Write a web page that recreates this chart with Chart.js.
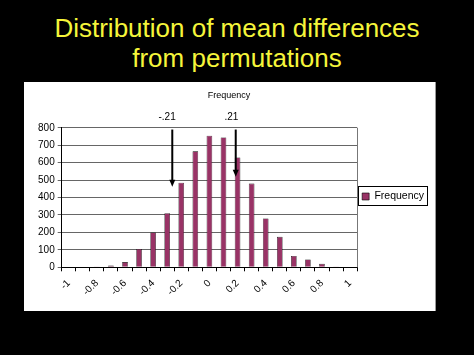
<!DOCTYPE html>
<html>
<head>
<meta charset="utf-8">
<script src="https://cdn.jsdelivr.net/npm/chart.js@4.4.1/dist/chart.umd.min.js"></script>
<style>
  html, body { margin: 0; padding: 0; background: #000; }
  body { width: 474px; height: 355px; position: relative; overflow: hidden; }
  #title {
    position: absolute; left: 0; top: 13px; width: 474px;
    text-align: center; color: #f5f53a;
    font-family: "Liberation Sans", Arial, sans-serif; font-size: 26px; line-height: 30px;
  }
  #box {
    position: absolute; left: 24px; top: 82px; width: 412px; height: 229px;
    background: #fff; border-right: 1px solid #999; box-sizing: border-box;
  }
</style>
</head>
<body>
<div id="title">Distribution of mean differences<br>from permutations</div>
<div id="box"><canvas id="chart" width="411" height="229"></canvas></div>
<script>
// bins of the permutation histogram (-1 .. 1 step 0.1)
const bins = ["-1", "-0.9", "-0.8", "-0.7", "-0.6", "-0.5", "-0.4", "-0.3", "-0.2", "-0.1", "0",
  "0.1", "0.2", "0.3", "0.4", "0.5", "0.6", "0.7", "0.8", "0.9", "1"];
const frequency = [0, 0, 5, 10, 30, 105, 200, 310, 485, 665, 755,
  745, 630, 480, 280, 175, 65, 45, 20, 5, 0];
const yTicks = [0, 100, 200, 300, 400, 500, 600, 700, 800];

// arrows marking the observed difference (+/- .21)
const arrowLabels = ["-.21", ".21"];
const arrowAt = [7.36, 11.87];      // category index
const arrowTip = [462, 520];        // frequency value
const arrowTop = 790;
const labelAt = [6.99, 11.56];
const labelY = 842;

const font = "'Liberation Sans', Arial, sans-serif";

const annotate = {
  id: "annotate",
  afterDraw(chart) {
    const ctx = chart.ctx;
    const x = chart.scales.x, y = chart.scales.y;
    const a = chart.chartArea;
    ctx.save();
    // plot area border
    ctx.strokeStyle = "#777";
    ctx.lineWidth = 1;
    ctx.beginPath();
    ctx.moveTo(Math.round(a.right) + 0.5, a.top);
    ctx.lineTo(Math.round(a.right) + 0.5, a.bottom);
    ctx.stroke();
    // legend border round the item
    const hb = chart.legend.legendHitBoxes[0];
    if (hb) {
      ctx.strokeStyle = "#000";
      ctx.strokeRect(Math.round(hb.left) - 3.5, Math.round(hb.top) - 4.5,
        Math.round(hb.width) + 7, Math.round(hb.height) + 8);
    }
    // arrows
    ctx.fillStyle = "#000";
    ctx.lineWidth = 2;
    arrowAt.forEach((v, i) => {
      const px = x.getPixelForValue(v);
      const top = y.getPixelForValue(arrowTop);
      const tip = y.getPixelForValue(arrowTip[i]);
      ctx.beginPath();
      ctx.moveTo(px, top);
      ctx.lineTo(px, tip - 5);
      ctx.stroke();
      ctx.beginPath();
      ctx.moveTo(px - 3, tip - 7);
      ctx.lineTo(px + 3, tip - 7);
      ctx.lineTo(px, tip);
      ctx.closePath();
      ctx.fill();
      ctx.font = "10px " + font;
      ctx.textAlign = "center";
      ctx.textBaseline = "alphabetic";
      ctx.fillText(arrowLabels[i], x.getPixelForValue(labelAt[i]), y.getPixelForValue(labelY));
    });
    ctx.restore();
  }
};

new Chart(document.getElementById("chart"), {
  type: "bar",
  data: {
    labels: bins,
    datasets: [{
      label: "Frequency",
      data: frequency,
      backgroundColor: "#993366",
      borderColor: "#000",
      borderWidth: 0.6,
      barPercentage: 0.4,
      categoryPercentage: 1.0,
    }],
  },
  options: {
    responsive: false,
    animation: false,
    layout: { padding: { top: 0, left: 0, right: 1, bottom: 0 } },
    plugins: {
      title: {
        display: true,
        text: "Frequency",
        color: "#000",
        font: { family: font, size: 9, weight: "normal" },
        padding: { top: 8, bottom: 27 },
      },
      legend: {
        position: "right",
        labels: {
          color: "#000",
          font: { family: font, size: 10.5 },
          boxWidth: 7,
          boxHeight: 7,
          padding: 5,
        },
      },
      tooltip: { enabled: false },
    },
    scales: {
      x: {
        offset: true,
        grid: { display: true, drawOnChartArea: false, offset: true, color: "#000", tickLength: 4 },
        border: { color: "#000" },
        ticks: {
          autoSkip: false,
          maxRotation: 45,
          minRotation: 45,
          color: "#000",
          padding: 6,
          font: { family: font, size: 10 },
          callback: (v, i) => (i % 2 === 0 ? bins[i] : ""),
        },
        afterFit: (s) => { s.height = 43.7; },
      },
      y: {
        min: 0,
        max: 800,
        afterBuildTicks: (s) => { s.ticks = yTicks.map((v) => ({ value: v })); },
        grid: { color: "#666", tickLength: 4 },
        border: { color: "#000" },
        ticks: { color: "#000", padding: 3, font: { family: font, size: 10 } },
        afterFit: (s) => { s.width = 37.7; },
      },
    },
  },
  plugins: [annotate],
});
</script>
</body>
</html>
